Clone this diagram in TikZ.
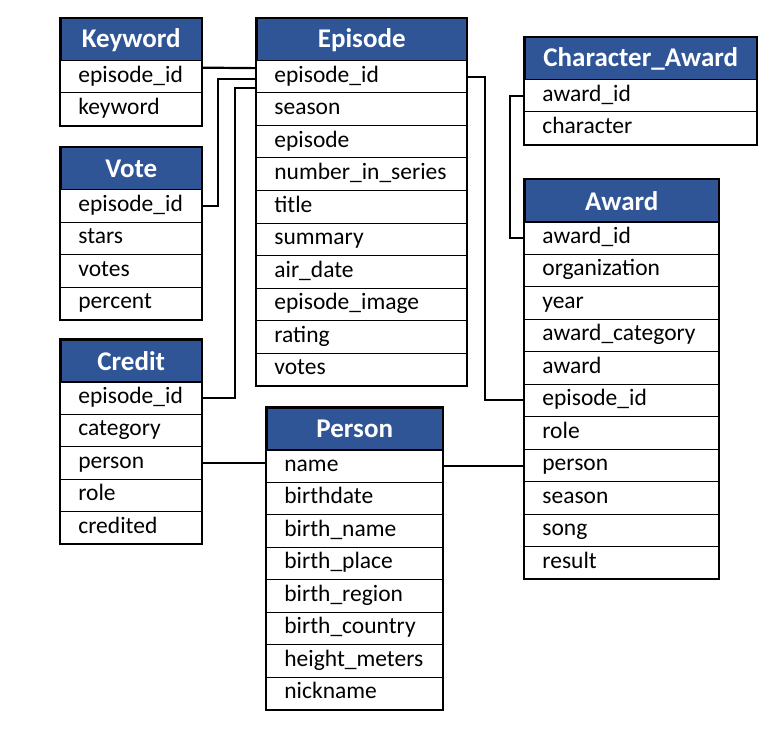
\documentclass[tikz,border=0pt]{standalone}
\usepackage{fontspec}
\setmainfont{Carlito}
\usetikzlibrary{calc}
\definecolor{hdrblue}{HTML}{2F5597}
\tikzset{
  hdr/.style={draw=black, line width=1.5pt, fill=hdrblue, text=white, font=\bfseries\fontsize{27}{30}\selectfont, minimum height=42pt, inner sep=0pt, anchor=north west},
  cell/.style={draw=black, line width=0.8pt, font=\fontsize{23.5}{26}\selectfont, minimum height=32.5pt, inner xsep=0pt, inner ysep=0pt, anchor=north west, align=left, text height=16pt, text depth=5pt},
  outer/.style={draw=black, line width=1.8pt},
  link/.style={draw=black, line width=2.2pt}
}
% #1 id, #2 x, #3 y, #4 w, #5 title, #6 rows, #7 nrows
\newcommand\mytbl[7]{%
  \node[hdr, minimum width=#4pt] (#1-h) at (#2,#3) {#5};
  \foreach \t [count=\i] in {#6} {
    \node[cell, minimum width=#4pt, text width=#4pt-20pt] (#1-\i) at (#2,{#3+42+(\i-1)*32.5}) {\hspace*{8pt}\t};
  }
  \draw[outer] (#1-h.north west) rectangle (#1-#7.south east);
}
\begin{document}
\begin{tikzpicture}[x=1pt,y=-1pt]
\useasboundingbox (0,0) rectangle (775,735);
\mytbl{kw}{60}{18}{141}{Keyword}{episode\_id,keyword}{2}
\mytbl{ep}{256}{18}{210}{Episode}{episode\_id,season,episode,number\_in\_series,title,summary,air\_date,episode\_image,rating,votes}{10}
\mytbl{ca}{524}{37}{232}{Character\_Award}{award\_id,character}{2}
\mytbl{vo}{60}{147}{141}{Vote}{episode\_id,stars,votes,percent}{4}
\mytbl{aw}{524}{179}{194}{Award}{award\_id,organization,year,award\_category,award,episode\_id,role,person,season,song,result}{11}
\mytbl{cr}{60}{339}{141}{Credit}{episode\_id,category,person,role,credited}{5}
\mytbl{pe}{266}{407}{176}{Person}{name,birthdate,birth\_name,birth\_place,birth\_region,birth\_country,height\_meters,nickname}{8}
% connectors
\draw[link] ($(kw-1.east)+(0,-9)$) -- ($(ep-1.west)+(0,-8.5)$);
\draw[link] (vo-1.east) -- ++(16,0) |- ($(ep-1.west)+(0,2.5)$);
\draw[link] (cr-1.east) -- ++(33,0) |- ($(ep-1.west)+(0,11.5)$);
\draw[link] (ep-1.east) -- ++(18,0) |- (aw-6.west);
\draw[link] (ca-1.west) -- ++(-14,0) |- (aw-1.west);
\draw[link] (cr-3.east) -- (cr-3.east -| pe-1.west);
\draw[link] (pe-1.east) -- (pe-1.east -| aw-8.west);
\end{tikzpicture}
\end{document}
